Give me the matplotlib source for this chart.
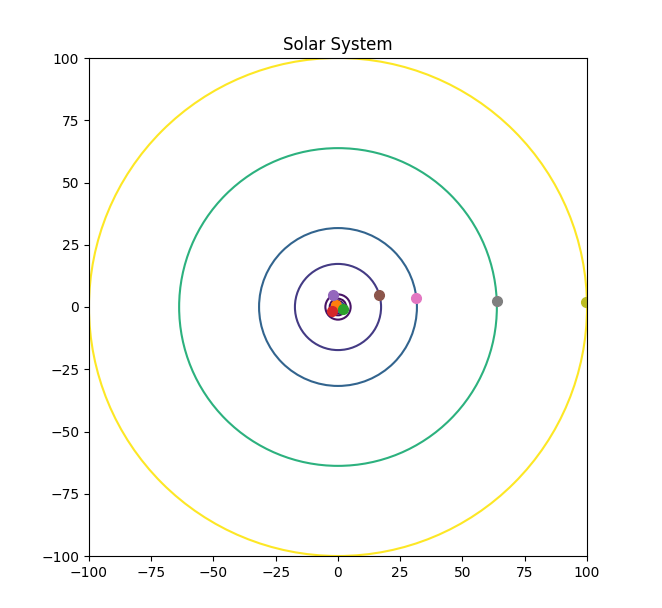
import numpy as np
import matplotlib
matplotlib.use('Agg')
import matplotlib.pyplot as plt
from matplotlib.patches import Circle

# -- orbit radii (scaled so that Neptune sits at 100)
orbitRadii = [1.29, 2.40, 3.33, 5.07, 17.3, 31.7, 63.8, 100.0]

# -- body positions (Sun first)
bodyX = [0.3, -1.0, 2.2, -2.6, -2.1, 16.5, 31.3, 63.9, 99.6]
bodyY = [-0.2, 0.9, -1.0, -1.8, 4.7, 5.0, 3.8, 2.6, 2.2]

fig = plt.figure(figsize=(6.62, 6.08), dpi=100)
ax = fig.add_axes([89/662., 52/608., 498/662., 498/608.])

cmap = plt.get_cmap('viridis')
for r in orbitRadii:
    ax.add_patch(Circle((0, 0), r, fill=False, lw=1.5,
                        color=cmap(r/max(orbitRadii))))

for x, y in zip(bodyX, bodyY):
    ax.plot(x, y, 'o', markersize=7)

ax.set_xlim(-100, 100)
ax.set_ylim(-100, 100)
ax.set_title('Solar System')

fig.savefig('out.png', dpi=100)
